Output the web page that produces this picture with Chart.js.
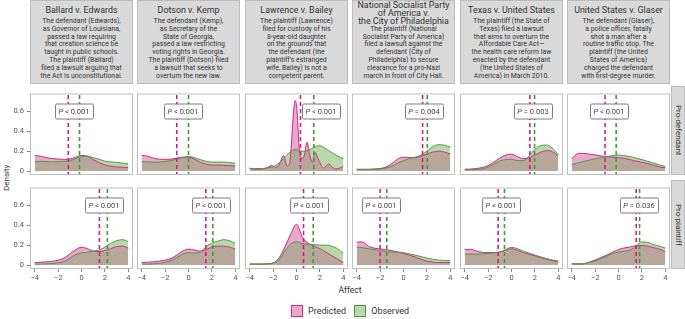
<!DOCTYPE html>
<html>
<head>
<meta charset="utf-8">
<script src="https://cdn.jsdelivr.net/npm/chart.js@4.4.1/dist/chart.umd.min.js"></script>
<style>
    body { margin: 0; width: 685px; height: 319px; position: relative; background: #fff; overflow: hidden; font-family: Roboto, sans-serif; color: #333; }
    .hdr { position: absolute; top: 0; height: 84px; box-sizing: border-box; background: #d9d9d9; border: 1px solid #bcbcbc; text-align: center; display: flex; flex-direction: column; justify-content: flex-end; padding-bottom: 2px; }
    .hdr .t { font-size: 8.9px; line-height: 8px; margin-bottom: 4px; color: #333; }
    .hdr .d { font-size: 6.9px; line-height: 7.9px; color: #333; }
    .cell { position: absolute; }
    .strip { position: absolute; left: 671px; width: 14px; box-sizing: border-box; background: #d9d9d9; border: 1px solid #bcbcbc; writing-mode: vertical-rl; text-align: center; font-size: 8px; line-height: 12px; color: #333; }
    .ylab { position: absolute; left: 2px; top: 150px; height: 56px; writing-mode: vertical-rl; transform: rotate(180deg); text-align: center; font-size: 8px; line-height: 10px; color: #333; }
    .xlab { position: absolute; left: 320px; width: 60px; top: 285px; text-align: center; font-size: 8.5px; color: #333; }
    .legend { position: absolute; top: 305px; left: 291px; font-size: 9px; color: #333; display: flex; align-items: center; }
    .key { width: 12px; height: 12px; box-sizing: border-box; border: 1.2px solid; margin-right: 5px; }
</style>
</head>
<body>
<div class="ylab">Density</div>
<div class="xlab">Affect</div>
<div class="strip" style="top:86px;height:89px;">Pro-defendant</div>
<div class="strip" style="top:180px;height:89px;">Pro-plaintiff</div>
<div class="legend">
    <div class="key" style="background:#e8a9cc;border-color:#d3288a"></div><span style="margin-right:8px">Predicted</span>
    <div class="key" style="background:#b8d8aa;border-color:#4a9b42"></div><span>Observed</span>
</div>
<script>
// Case headers
const caseTitles = ['Ballard v. Edwards', 'Dotson v. Kemp', 'Lawrence v. Bailey', 'National Socialist Party<br>of America v.<br>the City of Philadelphia', 'Texas v. United States', 'United States v. Glaser'];
const caseTexts = [
    'The defendant (Edwards),<br>as Governor of Louisiana,<br>passed a law requiring<br>that creation science be<br>taught in public schools.<br>The plaintiff (Ballard)<br>filed a lawsuit arguing that<br>the Act is unconstitutional.',
    'The defendant (Kemp),<br>as Secretary of the<br>State of Georgia,<br>passed a law restricting<br>voting rights in Georgia.<br>The plaintiff (Dotson) filed<br>a lawsuit that seeks to<br>overturn the new law.',
    'The plaintiff (Lawrence)<br>filed for custody of his<br>8-year-old daughter<br>on the grounds that<br>the defendant (the<br>plaintiff\u2019s estranged<br>wife, Bailey) is not a<br>competent parent.',
    'The plaintiff (National<br>Socialist Party of America)<br>filed a lawsuit against the<br>defendant (City of<br>Philadelphia) to secure<br>clearance for a pro-Nazi<br>march in front of City Hall.',
    'The plaintiff (the State of<br>Texas) filed a lawsuit<br>that aims to overturn the<br>Affordable Care Act\u2014<br>the health care reform law<br>enacted by the defendant<br>(the United States of<br>America) in March 2010.',
    'The defendant (Glaser),<br>a police officer, fatally<br>shot a man after a<br>routine traffic stop. The<br>plaintiff (the United<br>States of America)<br>charged the defendant<br>with first-degree murder.'
];

// Affect values where the densities were read
const affectGrid = [-4, -3.5, -3, -2.5, -2, -1.5, -1, -0.5, 0, 0.5, 1, 1.5, 2, 2.5, 3, 3.5, 4];
const lawrenceDefGrid = [-4, -3.6, -3, -2.6, -2.1, -1.8, -1.5, -1.1, -0.8, -0.6, -0.45, -0.25, -0.1, 0.05, 0.25, 0.45, 0.65, 0.9, 1.15, 1.35, 1.6, 1.9, 2.3, 2.75, 3.3, 3.7, 4];

// Pro-defendant row
const ballardDefPred = [0.155, 0.15, 0.135, 0.125, 0.12, 0.118, 0.12, 0.14, 0.157, 0.15, 0.115, 0.085, 0.062, 0.048, 0.042, 0.038, 0.034];
const ballardDefObs = [0.095, 0.098, 0.095, 0.092, 0.093, 0.098, 0.105, 0.125, 0.145, 0.148, 0.135, 0.118, 0.1, 0.092, 0.087, 0.08, 0.07];
const dotsonDefPred = [0.157, 0.15, 0.13, 0.12, 0.117, 0.12, 0.13, 0.14, 0.14, 0.12, 0.09, 0.07, 0.06, 0.06, 0.058, 0.055, 0.05];
const dotsonDefObs = [0.095, 0.092, 0.09, 0.09, 0.095, 0.105, 0.12, 0.135, 0.145, 0.135, 0.115, 0.098, 0.09, 0.09, 0.09, 0.085, 0.078];
const lawrenceDefPred = [0.03, 0.02, 0.02, 0.03, 0.055, 0.035, 0.06, 0.155, 0.05, 0.07, 0.25, 0.6, 0.71, 0.6, 0.2, 0.13, 0.15, 0.29, 0.15, 0.09, 0.185, 0.11, 0.03, 0.07, 0.02, 0.03, 0.046];
const lawrenceDefObs = [0.025, 0.025, 0.025, 0.03, 0.04, 0.055, 0.08, 0.125, 0.165, 0.185, 0.2, 0.212, 0.215, 0.212, 0.205, 0.2, 0.2, 0.205, 0.215, 0.23, 0.245, 0.255, 0.24, 0.205, 0.165, 0.14, 0.12];
const nspaDefPred = [0.018, 0.018, 0.018, 0.02, 0.025, 0.04, 0.075, 0.12, 0.14, 0.135, 0.135, 0.15, 0.17, 0.19, 0.2, 0.19, 0.17];
const nspaDefObs = [0.015, 0.015, 0.015, 0.018, 0.022, 0.03, 0.05, 0.08, 0.105, 0.125, 0.14, 0.16, 0.2, 0.245, 0.265, 0.26, 0.24];
const texasDefPred = [0.018, 0.02, 0.025, 0.035, 0.055, 0.09, 0.13, 0.16, 0.17, 0.145, 0.125, 0.135, 0.16, 0.19, 0.205, 0.195, 0.15];
const texasDefObs = [0.012, 0.013, 0.016, 0.022, 0.038, 0.07, 0.1, 0.115, 0.118, 0.105, 0.105, 0.15, 0.22, 0.255, 0.262, 0.23, 0.165];
const glaserDefPred = [0.12, 0.175, 0.178, 0.17, 0.162, 0.152, 0.145, 0.14, 0.135, 0.128, 0.115, 0.1, 0.088, 0.075, 0.058, 0.042, 0.032];
const glaserDefObs = [0.065, 0.08, 0.095, 0.11, 0.122, 0.135, 0.145, 0.155, 0.16, 0.155, 0.145, 0.13, 0.115, 0.098, 0.08, 0.062, 0.045];

// Pro-plaintiff row
const ballardPlaPred = [0.025, 0.028, 0.032, 0.038, 0.048, 0.07, 0.11, 0.155, 0.178, 0.165, 0.14, 0.135, 0.145, 0.165, 0.185, 0.19, 0.17];
const ballardPlaObs = [0.01, 0.01, 0.012, 0.015, 0.022, 0.035, 0.07, 0.105, 0.122, 0.13, 0.14, 0.15, 0.18, 0.22, 0.245, 0.255, 0.235];
const dotsonPlaPred = [0.025, 0.028, 0.032, 0.04, 0.05, 0.065, 0.1, 0.14, 0.16, 0.15, 0.14, 0.155, 0.18, 0.19, 0.19, 0.18, 0.16];
const dotsonPlaObs = [0.01, 0.01, 0.012, 0.018, 0.028, 0.045, 0.075, 0.11, 0.125, 0.12, 0.13, 0.185, 0.22, 0.24, 0.255, 0.245, 0.215];
const lawrencePlaPred = [0.01, 0.01, 0.01, 0.012, 0.02, 0.07, 0.18, 0.31, 0.41, 0.28, 0.22, 0.19, 0.165, 0.13, 0.095, 0.06, 0.025];
const lawrencePlaObs = [0.01, 0.01, 0.01, 0.012, 0.02, 0.05, 0.14, 0.21, 0.235, 0.215, 0.21, 0.205, 0.2, 0.2, 0.19, 0.165, 0.115];
const nspaPlaPred = [0.23, 0.232, 0.19, 0.17, 0.162, 0.155, 0.145, 0.13, 0.115, 0.1, 0.08, 0.058, 0.04, 0.03, 0.025, 0.025, 0.025];
const nspaPlaObs = [0.18, 0.175, 0.165, 0.155, 0.145, 0.135, 0.13, 0.13, 0.125, 0.112, 0.1, 0.085, 0.07, 0.058, 0.05, 0.046, 0.045];
const texasPlaPred = [0.155, 0.158, 0.14, 0.128, 0.125, 0.125, 0.132, 0.15, 0.165, 0.148, 0.125, 0.108, 0.092, 0.075, 0.058, 0.045, 0.034];
const texasPlaObs = [0.11, 0.11, 0.11, 0.112, 0.117, 0.122, 0.13, 0.155, 0.178, 0.165, 0.14, 0.12, 0.1, 0.082, 0.065, 0.05, 0.04];
const glaserPlaPred = [0.012, 0.012, 0.013, 0.03, 0.05, 0.075, 0.1, 0.13, 0.157, 0.172, 0.182, 0.195, 0.196, 0.19, 0.175, 0.16, 0.135];
const glaserPlaObs = [0.01, 0.01, 0.012, 0.025, 0.04, 0.065, 0.09, 0.115, 0.13, 0.14, 0.15, 0.19, 0.232, 0.228, 0.205, 0.19, 0.17];

// Means (dashed lines) and P values, row by row
const predMeans = [-1.13, -1.0, 0.34, 1.63, 1.57, -1.15, 1.53, 1.48, 0.6, -2.0, -1.14, 1.51];
const obsMeans = [-0.17, 0.0, 1.48, 2.03, 1.97, -0.2, 2.21, 2.08, 1.43, -1.43, -0.6, 1.8];
const pValues = ['< 0.001', '< 0.001', '< 0.001', '= 0.004', '= 0.003', '< 0.001', '< 0.001', '< 0.001', '< 0.001', '< 0.001', '< 0.001', '= 0.036'];
const pLabelAt = [-0.65, -0.5, 2.1, 1.77, 1.8, -0.8, 1.93, 1.92, 1.07, -1.93, -0.9, 1.72];

const densityTicks = [0, 0.2, 0.4, 0.6];
const affectTicks = [-4, -2, 0, 2, 4];

const panels = [
    [affectGrid, ballardDefPred, ballardDefObs], [affectGrid, dotsonDefPred, dotsonDefObs], [lawrenceDefGrid, lawrenceDefPred, lawrenceDefObs],
    [affectGrid, nspaDefPred, nspaDefObs], [affectGrid, texasDefPred, texasDefObs], [affectGrid, glaserDefPred, glaserDefObs],
    [affectGrid, ballardPlaPred, ballardPlaObs], [affectGrid, dotsonPlaPred, dotsonPlaObs], [affectGrid, lawrencePlaPred, lawrencePlaObs],
    [affectGrid, nspaPlaPred, nspaPlaObs], [affectGrid, texasPlaPred, texasPlaObs], [affectGrid, glaserPlaPred, glaserPlaObs]
];

const pinkLine = '#d3288a', greenLine = '#4a9b42';
const pinkFill = '#e8a9cc', greenFill = '#b8d8aa', bothFill = '#b6a79a';

Chart.defaults.font.family = 'Roboto';
Chart.defaults.font.size = 7.5;
Chart.defaults.color = '#555';

const colLeft = c => Math.round(30 + 107.4 * c);
const PANEL_W = 103, PANEL_H = 89, Y_AXIS_W = 30, X_AXIS_H = 16;

caseTitles.forEach((t, c) => {
    const h = document.createElement('div');
    h.className = 'hdr';
    h.style.left = colLeft(c) + 'px';
    h.style.width = PANEL_W + 'px';
    const tight = t.includes('<br>') ? ' style="margin-bottom:1px"' : '';
    h.innerHTML = `<div class="t"${tight}>${t}</div><div class="d">${caseTexts[c]}</div>`;
    document.body.appendChild(h);
});

// Frame around each panel
const framePlugin = {
    id: 'frame',
    afterDraw(chart) {
        const { ctx, chartArea: a } = chart;
        ctx.save();
        ctx.strokeStyle = '#bfbfbf';
        ctx.lineWidth = 1;
        ctx.strokeRect(a.left + 0.5, a.top + 0.5, a.right - a.left - 1, a.bottom - a.top - 1);
        ctx.restore();
    }
};

// "P < 0.001" box at density 0.6
const pLabelPlugin = {
    id: 'pLabel',
    afterDatasetsDraw(chart, args, opts) {
        const { ctx, scales: { x, y } } = chart;
        const cx = Math.round(x.getPixelForValue(opts.at));
        const cy = Math.round(y.getPixelForValue(0.6));
        const bw = 38, bh = 15;
        ctx.save();
        ctx.fillStyle = '#fff';
        ctx.strokeStyle = '#7d7d7d';
        ctx.lineWidth = 1;
        ctx.beginPath();
        ctx.roundRect(cx - bw / 2 + 0.5, cy - bh / 2 + 0.5, bw, bh, 1.5);
        ctx.fill();
        ctx.stroke();
        ctx.font = 'italic 7.5px Roboto';
        const wP = ctx.measureText('P').width;
        ctx.font = '7.5px Roboto';
        const rest = ' ' + opts.text;
        const wR = ctx.measureText(rest).width;
        const sx = cx - (wP + wR) / 2;
        ctx.fillStyle = '#444';
        ctx.textBaseline = 'middle';
        ctx.font = 'italic 7.5px Roboto';
        ctx.fillText('P', sx, cy + 1);
        ctx.font = '7.5px Roboto';
        ctx.fillText(rest, sx + wP, cy + 1);
        ctx.restore();
    }
};

function vline(v) {
    return [{ x: v, y: -0.05 }, { x: v, y: 0.8 }];
}

function points(xs, ys) {
    return xs.map((x, i) => ({ x: x, y: ys[i] }));
}

panels.forEach((p, i) => {
    const row = Math.floor(i / 6), col = i % 6;
    const showX = row === 1, showY = col === 0;
    // every canvas has the same axis room; unused axes are just transparent
    const box = document.createElement('div');
    box.className = 'cell';
    box.style.left = (colLeft(col) - Y_AXIS_W) + 'px';
    box.style.top = (row === 0 ? 86 : 180) + 'px';
    box.style.width = (PANEL_W + Y_AXIS_W) + 'px';
    box.style.height = (PANEL_H + X_AXIS_H) + 'px';
    const canvas = document.createElement('canvas');
    box.appendChild(canvas);
    document.body.appendChild(box);

    new Chart(canvas, {
        type: 'line',
        data: {
            datasets: [
                { data: vline(predMeans[i]), borderColor: '#d81b7f', borderWidth: 1.6, borderDash: [4, 3], pointRadius: 0, fill: false },
                { data: vline(obsMeans[i]), borderColor: '#3d9a3d', borderWidth: 1.6, borderDash: [4, 3], pointRadius: 0, fill: false },
                {
                    label: 'Observed', data: points(p[0], p[2]), borderColor: greenLine, borderWidth: 1,
                    pointRadius: 0, cubicInterpolationMode: 'monotone',
                    fill: { target: 3, above: greenFill, below: pinkFill }
                },
                {
                    label: 'Predicted', data: points(p[0], p[1]), borderColor: pinkLine, borderWidth: 1,
                    pointRadius: 0, cubicInterpolationMode: 'monotone',
                    fill: 'origin', backgroundColor: bothFill
                }
            ]
        },
        options: {
            responsive: true,
            maintainAspectRatio: false,
            animation: false,
            layout: { padding: 0, autoPadding: false },
            plugins: {
                legend: { display: false },
                tooltip: { enabled: false },
                filler: { drawTime: 'beforeDatasetsDraw' },
                pLabel: { at: pLabelAt[i], text: pValues[i] }
            },
            scales: {
                x: {
                    type: 'linear', min: -4.4, max: 4.4,
                    afterBuildTicks: s => { s.ticks = affectTicks.map(v => ({ value: v })); },
                    afterFit: s => { s.height = X_AXIS_H; },
                    grid: { drawOnChartArea: false, drawTicks: true, tickLength: 3, color: showX ? '#8a8a8a' : 'rgba(0,0,0,0)' },
                    border: { display: false },
                    ticks: { padding: 2, maxRotation: 0, autoSkip: false, color: showX ? '#555' : 'rgba(0,0,0,0)', callback: v => v < 0 ? '\u2212' + Math.abs(v) : String(v) }
                },
                y: {
                    min: -0.04, max: 0.78,
                    afterBuildTicks: s => { s.ticks = densityTicks.map(v => ({ value: v })); },
                    afterFit: s => { s.width = Y_AXIS_W; },
                    grid: { drawOnChartArea: false, drawTicks: true, tickLength: 3, color: showY ? '#8a8a8a' : 'rgba(0,0,0,0)' },
                    border: { display: false },
                    ticks: { padding: 3, autoSkip: false, color: showY ? '#555' : 'rgba(0,0,0,0)', callback: v => v === 0 ? '0' : v.toFixed(1) }
                }
            }
        },
        plugins: [pLabelPlugin, framePlugin]
    });
});
</script>
</body>
</html>
